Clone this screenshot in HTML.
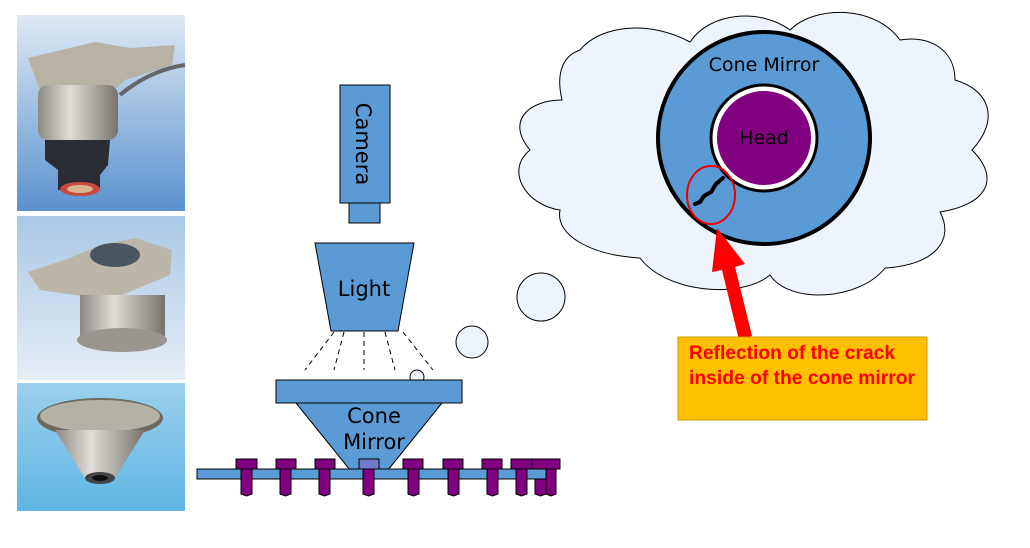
<!DOCTYPE html>
<html><head><meta charset="utf-8"><style>
body{margin:0;background:#fff;}
svg{display:block;font-family:"DejaVu Sans","Liberation Sans",sans-serif;}
</style></head><body>
<svg width="1030" height="548" viewBox="0 0 1030 548" xmlns="http://www.w3.org/2000/svg">
<defs>
<linearGradient id="p1" x1="0" y1="0" x2="0" y2="1"><stop offset="0" stop-color="#dfe9f3"/><stop offset="1" stop-color="#5a92cf"/></linearGradient>
<linearGradient id="p2" x1="0" y1="0" x2="0" y2="1"><stop offset="0" stop-color="#a9c8e6"/><stop offset="1" stop-color="#e6edf5"/></linearGradient>
<linearGradient id="p3" x1="0" y1="0" x2="0" y2="1"><stop offset="0" stop-color="#9bd0ec"/><stop offset="1" stop-color="#5fb6e4"/></linearGradient>
<linearGradient id="met" x1="0" y1="0" x2="1" y2="0"><stop offset="0" stop-color="#8d8a83"/><stop offset="0.4" stop-color="#e0ddd6"/><stop offset="1" stop-color="#77736c"/></linearGradient>
</defs>
<rect x="17" y="15" width="168" height="196" fill="url(#p1)"/>
<path d="M28 58 L95 42 L130 48 L175 45 L172 65 L125 80 L110 95 L40 90 Z" fill="#b8b2a6"/>
<rect x="38" y="85" width="80" height="55" rx="10" fill="url(#met)"/>
<path d="M45 140 L110 140 L108 165 L100 175 L100 190 L58 190 L58 170 L45 160Z" fill="#2a2d33"/>
<ellipse cx="80" cy="189" rx="20" ry="7" fill="#c8493f"/>
<ellipse cx="80" cy="189" rx="13" ry="4" fill="#d8b48e"/>
<path d="M120 95 Q150 70 185 65" stroke="#666" stroke-width="4" fill="none"/>
<rect x="17" y="216" width="168" height="164" fill="url(#p2)"/>
<path d="M28 272 L70 258 L100 245 L135 238 L172 250 L170 275 L110 300 L40 290Z" fill="#bcb6aa"/>
<ellipse cx="115" cy="255" rx="25" ry="12" fill="#4b5560"/>
<rect x="80" y="295" width="85" height="45" fill="url(#met)"/>
<ellipse cx="122" cy="340" rx="45" ry="12" fill="#9a968f"/>
<rect x="17" y="383" width="168" height="128" fill="url(#p3)"/>
<ellipse cx="100" cy="418" rx="63" ry="20" fill="#6d6960"/>
<ellipse cx="100" cy="416" rx="60" ry="16" fill="#b6b1a6"/>
<path d="M55 430 L145 430 L115 478 L85 478Z" fill="url(#met)"/>
<ellipse cx="100" cy="478" rx="15" ry="6" fill="#444"/>
<ellipse cx="100" cy="478" rx="8" ry="3" fill="#111"/>

<rect x="340" y="85" width="50" height="118" fill="#5b9bd5" stroke="#000" stroke-width="1"/>
<rect x="349" y="203" width="31" height="20" fill="#5b9bd5" stroke="#000" stroke-width="1"/>
<text x="0" y="0" transform="translate(356,144) rotate(90)" font-size="21" text-anchor="middle">Camera</text>
<path d="M315 243 L414 243 L398 331 L331 331Z" fill="#5b9bd5" stroke="#000" stroke-width="1"/>
<text x="364" y="296" font-size="21" text-anchor="middle">Light</text>
<g stroke="#000" stroke-dasharray="5,4" stroke-width="1">
<line x1="334" y1="332" x2="305" y2="370"/><line x1="344" y1="332" x2="334" y2="370"/>
<line x1="364" y1="332" x2="364" y2="370"/><line x1="385" y1="332" x2="395" y2="370"/>
<line x1="403" y1="332" x2="433" y2="370"/></g>
<circle cx="417" cy="377" r="7" fill="#edf4fb" stroke="#000" stroke-width="1"/>
<circle cx="472" cy="342" r="16" fill="#edf4fb" stroke="#000" stroke-width="1"/>
<circle cx="541" cy="297" r="24" fill="#edf4fb" stroke="#000" stroke-width="1"/>
<rect x="276" y="380" width="186" height="23" fill="#5b9bd5" stroke="#000" stroke-width="1"/>
<path d="M296 403 L442 403 L388 470 L350 470Z" fill="#5b9bd5" stroke="#000" stroke-width="1"/>
<text x="374" y="423" font-size="21" text-anchor="middle">Cone</text>
<text x="374" y="449" font-size="21" text-anchor="middle">Mirror</text>
<g fill="#800080" stroke="#000" stroke-width="1">
<rect x="236" y="459" width="21" height="10"/><rect x="276" y="459" width="20" height="10"/>
<rect x="315" y="459" width="20" height="10"/><rect x="359" y="459" width="20" height="10" fill="#6f7bc8"/>
<rect x="403" y="459" width="20" height="10"/><rect x="443" y="459" width="20" height="10"/>
<rect x="482" y="459" width="20" height="10"/><rect x="511" y="459" width="21" height="10"/>
<rect x="532" y="459" width="28" height="10"/>
</g>
<rect x="197" y="469" width="355" height="10" fill="#5b9bd5" stroke="#000" stroke-width="1"/>
<g fill="#800080" stroke="#000" stroke-width="1">
<path d="M241 469 h11 v25 l-5.5 2 l-5.5 -2z"/><path d="M280 469 h11 v25 l-5.5 2 l-5.5 -2z"/>
<path d="M319 469 h11 v25 l-5.5 2 l-5.5 -2z"/><path d="M363 469 h11 v25 l-5.5 2 l-5.5 -2z"/>
<path d="M408 469 h11 v25 l-5.5 2 l-5.5 -2z"/><path d="M448 469 h11 v25 l-5.5 2 l-5.5 -2z"/>
<path d="M487 469 h11 v25 l-5.5 2 l-5.5 -2z"/><path d="M516 469 h11 v25 l-5.5 2 l-5.5 -2z"/>
<path d="M535 479 h11 v15 l-5.5 2 l-5.5 -2z"/><path d="M546 469 h10 v25 l-5 2 l-5 -2z"/>
</g>
<path d="M580 50 C600 25 650 20 690 42 C710 12 760 8 790 30 C815 5 875 5 900 40 C930 35 955 50 955 80 C990 90 1000 120 972 150 C1002 180 985 205 940 212 C955 240 935 265 885 268 C860 300 790 305 770 275 C740 300 665 292 640 258 C590 255 555 235 560 210 C525 205 505 170 530 150 C505 120 530 100 562 100 C555 70 565 55 580 50 Z" fill="#edf4fb" stroke="#000" stroke-width="1"/>
<circle cx="764" cy="138" r="106" fill="#5b9bd5" stroke="#000" stroke-width="4"/>
<circle cx="764" cy="138" r="53" fill="#fff" stroke="#000" stroke-width="3"/>
<circle cx="764" cy="138" r="47" fill="#800080"/>
<text x="764" y="71" font-size="19" text-anchor="middle">Cone Mirror</text>
<text x="764" y="144" font-size="19" text-anchor="middle">Head</text>
<path d="M723 178 L716 184 L711 192 L704 196 L700 202 L695 204" stroke="#000" stroke-width="4" fill="none" stroke-linecap="round"/>
<ellipse cx="711" cy="195" rx="24" ry="29" fill="none" stroke="#e00" stroke-width="2"/>
<path d="M752 336 L735 267 L745 264 L717 228 L712 272 L722 270 L739 340Z" fill="#f00"/>
<rect x="678" y="337" width="249" height="83" fill="#ffc000" stroke="#c99a00" stroke-width="1"/>
<text x="689" y="359" font-size="19" fill="#f00" font-family="Liberation Sans,sans-serif" font-weight="bold" textLength="206" lengthAdjust="spacingAndGlyphs">Reflection of the crack</text>
<text x="689" y="384" font-size="19" fill="#f00" font-family="Liberation Sans,sans-serif" font-weight="bold" textLength="226" lengthAdjust="spacingAndGlyphs">inside of the cone mirror</text>
</svg>
</body></html>
